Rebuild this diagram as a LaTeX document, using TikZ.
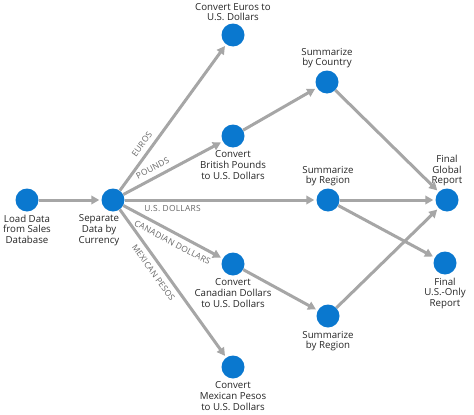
\documentclass[tikz,border=0pt]{standalone}
\usepackage{fontspec}
\setmainfont{Open Sans}
\usetikzlibrary{positioning, arrows.meta}

\definecolor{stageblue}{HTML}{0A78CF}
\definecolor{flowgray}{HTML}{A6A6A6}
\definecolor{textgray}{HTML}{262626}
\definecolor{currgray}{HTML}{666666}

\begin{document}
\begin{tikzpicture}[x=1pt, y=-1pt,
    stage/.style={circle, fill=stageblue, minimum size=23pt, inner sep=0pt},
    caption/.style={align=center, font=\fontsize{9.7}{10.7}\selectfont, text=textgray, inner sep=1pt},
    flow/.style={draw=flowgray, line width=3pt, -{Triangle[length=8pt,width=8.5pt]}, shorten >=2pt},
    currency/.style={font=\fontsize{8.4}{8.4}\selectfont\addfontfeatures{LetterSpace=3}, text=currgray, sloped, inner sep=1pt}]
    \useasboundingbox (0,0) rectangle (474,415);

    % Stages
    \node[stage] (loadBase) at (27,200) {};
    \node[below=2pt of loadBase, caption] (load) {Load Data\\from Sales\\Database};

    \node[stage] (separateBase) at (113,200) {};
    \node[below=2pt of separateBase, xshift=-14pt, caption] (separate) {Separate\\Data by\\Currency};

    \node[stage] (eurosBase) at (233,35) {};
    \node[above=1pt of eurosBase, caption] (euros) {Convert Euros to\\U.S. Dollars};

    \node[stage] (poundsBase) at (233,136) {};
    \node[below=2pt of poundsBase, caption] (pounds) {Convert\\British Pounds\\to U.S. Dollars};

    \node[stage] (canadianBase) at (233,264) {};
    \node[below=2pt of canadianBase, caption] (canadian) {Convert\\Canadian Dollars\\to U.S. Dollars};

    \node[stage] (mexicanBase) at (233,367) {};
    \node[below=2pt of mexicanBase, caption] (mexican) {Convert\\Mexican Pesos\\to U.S. Dollars};

    \node[stage] (countryBase) at (327,82) {};
    \node[above=1pt of countryBase, caption] (country) {Summarize\\by Country};

    \node[stage] (regionBase) at (328,200) {};
    \node[above=1pt of regionBase, caption] (region) {Summarize\\by Region};

    \node[stage] (regionLowBase) at (328,316) {};
    \node[below=2pt of regionLowBase, caption] (regionLow) {Summarize\\by Region};

    \node[stage] (globalBase) at (447,200) {};
    \node[above=1pt of globalBase, caption] (global) {Final\\Global\\Report};

    \node[stage] (usOnlyBase) at (445,263) {};
    \node[below=2pt of usOnlyBase, caption] (usOnly) {Final\\U.S.-Only\\Report};

    % Flows
    \draw[flow] (loadBase) -- (separateBase);
    \draw[flow] (separateBase) -- node[currency, above=4pt, pos=0.28] {EUROS} (eurosBase);
    \draw[flow] (separateBase) -- node[currency, above=4pt, pos=0.34] {POUNDS} (poundsBase);
    \draw[flow] (separateBase) -- node[currency, below=3pt, pos=0.25] {U.S. DOLLARS} (regionBase);
    \draw[flow] (separateBase) -- node[currency, below=4pt, pos=0.54] {CANADIAN DOLLARS} (canadianBase);
    \draw[flow] (separateBase) -- node[currency, below=4pt, pos=0.39] {MEXICAN PESOS} (mexicanBase);
    \draw[flow] (poundsBase) -- (countryBase);
    \draw[flow] (countryBase) -- (globalBase);
    \draw[flow] (regionBase) -- (globalBase);
    \draw[flow] (regionBase) -- (usOnlyBase);
    \draw[flow] (canadianBase) -- (regionLowBase);
    \draw[flow] (regionLowBase) -- (globalBase);

\end{tikzpicture}
\end{document}
